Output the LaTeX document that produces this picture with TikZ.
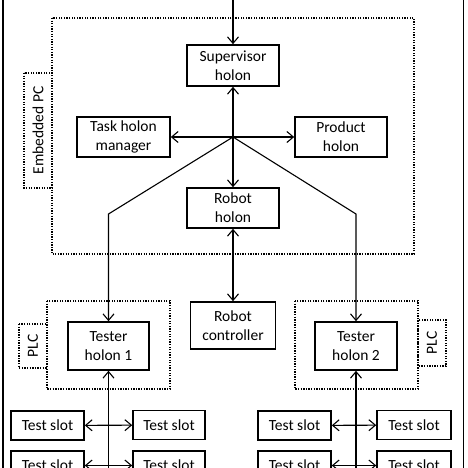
\documentclass[tikz,border=0pt]{standalone}
\usepackage{fontspec}
\setmainfont{Carlito}
\usetikzlibrary{arrows.meta}

\begin{document}
\begin{tikzpicture}[x=1pt,y=-1pt,font=\fontsize{15.5}{19}\selectfont,
	holon/.style={draw,line width=1.6pt,align=center,inner sep=0pt},
	slot/.style={draw,line width=1.6pt,inner sep=0pt,minimum width=72pt,minimum height=29pt},
	puntos/.style={draw,line width=1.3pt,dash pattern=on 1.3pt off 1.3pt},
	etiqueta/.style={puntos,rotate=90,inner sep=0pt,minimum height=28pt},
	flecha/.style={line width=1.1pt,-{Straight Barb[length=6.5pt,width=11pt]}},
	doble/.style={line width=1.1pt,{Straight Barb[length=6.5pt,width=11pt]}-{Straight Barb[length=6.5pt,width=11pt]}}]
		\useasboundingbox (0,0) rectangle (468,468);
		\clip (0,0) rectangle (468,468);
		\draw[line width=1.5pt] (3,-10) rectangle (463.5,490);
		
		% dotted groups
		\draw[puntos] (52,18) rectangle (414,254);
		\draw[puntos] (47,301) rectangle (170,389);
		\draw[puntos] (295,301) rectangle (418,389);
		\node[etiqueta,minimum width=115pt] (pc) at (38,130.5) {Embedded PC};
		\node[etiqueta,minimum width=44pt] (plc1) at (33,346) {PLC};
		\node[etiqueta,minimum width=46pt] (plc2) at (432,343) {PLC};
		
		\node[holon,minimum width=92pt,minimum height=41pt] (sup) at (233,65.5) {Supervisor\\holon};
		\node[holon,minimum width=93pt,minimum height=40pt] (task) at (123.5,137) {Task holon\\manager};
		\node[holon,minimum width=92pt,minimum height=40pt] (prod) at (341,137) {Product\\holon};
		\node[holon,minimum width=92pt,minimum height=40pt] (robot) at (233,208) {Robot\\holon};
		\node[holon,minimum width=85pt,minimum height=47pt] (ctrl) at (233,325.5) {Robot\\controller};
		\node[holon,minimum width=81pt,minimum height=48pt] (th1) at (108.5,346) {Tester\\holon 1};
		\node[holon,minimum width=82pt,minimum height=48pt] (th2) at (356,346) {Tester\\holon 2};
		
		\node[slot,minimum width=73pt] (s1) at (47.5,425.5) {Test slot};
		\node[slot] (s2) at (169,425) {Test slot};
		\node[slot,minimum width=73pt] (s3) at (47.5,465.5) {Test slot};
		\node[slot] (s4) at (169,465.5) {Test slot};
		\node[slot,minimum width=73pt] (s5) at (294.5,425.5) {Test slot};
		\node[slot,minimum width=74pt] (s6) at (414,425) {Test slot};
		\node[slot,minimum width=73pt] (s7) at (294.5,465.5) {Test slot};
		\node[slot,minimum width=74pt] (s8) at (414,465.5) {Test slot};
		
		\coordinate (entrada) at (233,-10);
		\coordinate (hub) at (233,137);
		\coordinate (codo1) at (108.5,214);
		\coordinate (codo2) at (356,214);
		\coordinate (fin1) at (108.5,490);
		\coordinate (fin2) at (356,490);
		
		\draw[flecha] (entrada) -- (sup);
		\draw[flecha] (hub) -- (sup);
		\draw[flecha] (hub) -- (task);
		\draw[flecha] (hub) -- (prod);
		\draw[flecha] (hub) -- (robot);
		\draw[flecha] (hub) -- (codo1) -- (th1);
		\draw[flecha] (hub) -- (codo2) -- (th2);
		\draw[doble] (robot) -- (ctrl);
		\draw[flecha] (fin1) -- (th1);
		\draw[flecha] (fin2) -- (th2);
		\draw[doble] (s1) -- (s2);
		\draw[doble] (s3) -- (s4);
		\draw[doble] (s5) -- (s6);
		\draw[doble] (s7) -- (s8);
	\end{tikzpicture}
\end{document}
